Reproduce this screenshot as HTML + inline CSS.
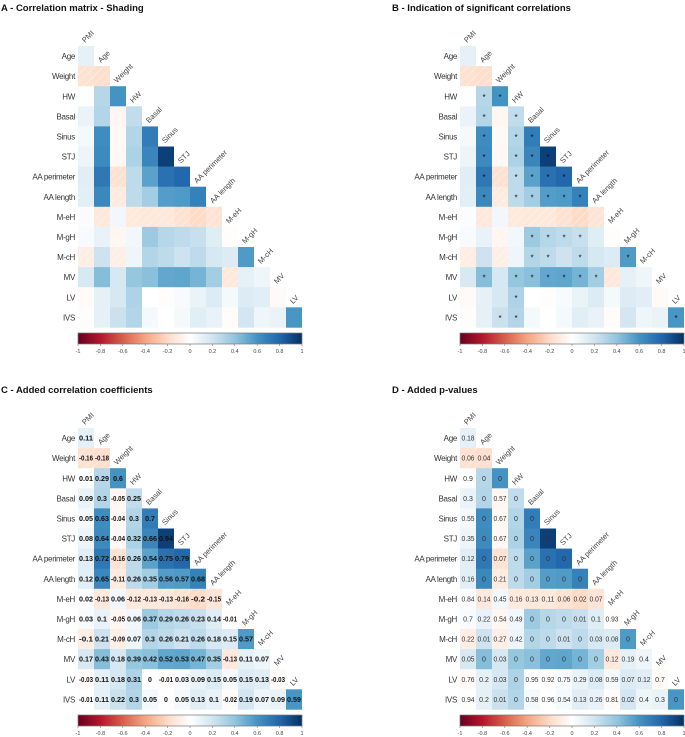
<!DOCTYPE html>
<html><head><meta charset="utf-8">
<style>
html,body{margin:0;padding:0;background:#fff;}
svg{display:block;font-family:"Liberation Sans",sans-serif;}
</style></head>
<body>
<svg id="chart" width="685" height="737" viewBox="0 0 685 737" xmlns="http://www.w3.org/2000/svg">
<defs>
<pattern id="hatch" patternUnits="userSpaceOnUse" width="6" height="6" patternTransform="rotate(45)">
<line x1="0" y1="0" x2="0" y2="6" stroke="#ffffff" stroke-width="0.8" stroke-opacity="0.7"/>
</pattern>
<linearGradient id="rdbu" x1="0" x2="1" y1="0" y2="0">
<stop offset="0" stop-color="#67001F"/><stop offset="0.1" stop-color="#B2182B"/><stop offset="0.2" stop-color="#D6604D"/><stop offset="0.3" stop-color="#F4A582"/><stop offset="0.4" stop-color="#FDDBC7"/><stop offset="0.5" stop-color="#FFFFFF"/><stop offset="0.6" stop-color="#D1E5F0"/><stop offset="0.7" stop-color="#92C5DE"/><stop offset="0.8" stop-color="#4393C3"/><stop offset="0.9" stop-color="#2166AC"/><stop offset="1" stop-color="#053061"/>
</linearGradient>
</defs>
</svg>
<script>
const rowLabels = ["Age","Weight","HW","Basal","Sinus","STJ","AA perimeter","AA length","M-eH","M-gH","M-cH","MV","LV","IVS"];
const colLabels = ["PMI","Age","Weight","HW","Basal","Sinus","STJ","AA perimeter","AA length","M-eH","M-gH","M-cH","MV","LV"];
const corrValues = [
[0.11],
[-0.16,-0.18],
[0.01,0.29,0.6],
[0.09,0.3,-0.05,0.25],
[0.05,0.63,-0.04,0.3,0.7],
[0.08,0.64,-0.04,0.32,0.66,0.94],
[0.13,0.72,-0.16,0.26,0.54,0.75,0.79],
[0.12,0.65,-0.11,0.26,0.35,0.56,0.57,0.68],
[0.02,-0.13,0.06,-0.12,-0.13,-0.13,-0.16,-0.2,-0.15],
[0.03,0.1,-0.05,0.06,0.37,0.29,0.26,0.23,0.14,-0.01],
[-0.1,0.21,-0.09,0.07,0.3,0.26,0.21,0.26,0.18,0.15,0.57],
[0.17,0.43,0.18,0.39,0.42,0.52,0.53,0.47,0.35,-0.13,0.11,0.07],
[-0.03,0.11,0.18,0.31,0,-0.01,0.03,0.09,0.15,0.05,0.15,0.13,-0.03],
[-0.01,0.11,0.22,0.3,0.05,0,0.05,0.13,0.1,-0.02,0.19,0.07,0.09,0.59]
];
const pValues = [
[0.18],
[0.06,0.04],
[0.9,0,0],
[0.3,0,0.57,0],
[0.55,0,0.67,0,0],
[0.35,0,0.67,0,0,0],
[0.12,0,0.07,0,0,0,0],
[0.16,0,0.21,0,0,0,0,0],
[0.84,0.14,0.45,0.16,0.13,0.11,0.06,0.02,0.07],
[0.7,0.22,0.54,0.49,0,0,0,0.008,0.1,0.93],
[0.22,0.012,0.27,0.42,0,0,0.011,0,0.03,0.08,0],
[0.05,0,0.03,0,0,0,0,0,0,0.12,0.19,0.4],
[0.76,0.2,0.03,0,0.95,0.92,0.75,0.29,0.08,0.59,0.07,0.12,0.7],
[0.94,0.2,0.008,0,0.58,0.96,0.54,0.13,0.26,0.81,0.02,0.4,0.3,0]
];
const tickLabels = ["-1","-0.8","-0.6","-0.4","-0.2","0","0.2","0.4","0.6","0.8","1"];
const sigThreshold = 0.01;

const NS = "http://www.w3.org/2000/svg";
const svg = document.getElementById("chart");
const palette = ["#67001F","#B2182B","#D6604D","#F4A582","#FDDBC7","#FFFFFF","#D1E5F0","#92C5DE","#4393C3","#2166AC","#053061"];
function hex(c){return [parseInt(c.slice(1,3),16),parseInt(c.slice(3,5),16),parseInt(c.slice(5,7),16)];}
function colorOf(v){
  const t = Math.max(0, Math.min(1, (v + 1) / 2)) * 10;
  const i = Math.min(9, Math.floor(t)), f = t - i;
  const a = hex(palette[i]), b = hex(palette[i+1]);
  return "rgb(" + a.map((x,k)=>Math.round(x + (b[k]-x)*f)).join(",") + ")";
}
function mk(tag, attrs, parent){
  const e = document.createElementNS(NS, tag);
  for (const k in attrs) e.setAttribute(k, attrs[k]);
  (parent || svg).appendChild(e);
  return e;
}
const CW = 16, CH = 20.1;
const panels = [
  {id:"a", title:"A - Correlation matrix - Shading", tx:1, ty:11, x0:78, y0:46, mode:"shade"},
  {id:"b", title:"B - Indication of significant correlations", tx:392, ty:11, x0:460, y0:46, mode:"star"},
  {id:"c", title:"C - Added correlation coefficients", tx:1, ty:393, x0:78, y0:428, mode:"coef"},
  {id:"d", title:"D - Added p-values", tx:392, ty:393, x0:460, y0:428, mode:"pval"}
];
panels.forEach(p => {
  const g = mk("g", {});
  
  
  const t = mk("text", {x:p.tx, y:p.ty, "font-size":"9.5", "font-weight":"bold", fill:"#111"}, g);
  t.textContent = p.title;
  
  
  const xS = j => p.x0 + j * CW;
  const yS = i => p.y0 + i * CH;
  corrValues.forEach((row, i) => {
    row.forEach((v, j) => {
      const r = mk("rect", {x:xS(j), y:yS(i), width:CW, height:CH+0.3, fill:colorOf(v)}, g);
      
      
      if (v < 0) {
        const h = mk("rect", {x:xS(j), y:yS(i), width:CW, height:CH+0.3, fill:"url(#hatch)"}, g);
        
        
      }
      const cx = xS(j) + CW/2, cy = yS(i) + CH/2;
      if (p.mode === "star" && pValues[i][j] < sigThreshold) {
        const s = mk("text", {x:cx, y:cy+3.5, "text-anchor":"middle", "font-size":"8", fill:"#111"}, g);
        s.textContent = "*";
        
        
      } else if (p.mode === "coef") {
        const s = mk("text", {x:cx, y:cy+2.5, "text-anchor":"middle", "font-size":"7", "font-weight":"bold", fill:"#111"}, g);
        if (String(v).length > 3) { s.setAttribute("textLength","14"); s.setAttribute("lengthAdjust","spacingAndGlyphs"); }
        s.textContent = String(v);
        
        
      } else if (p.mode === "pval") {
        const pv = Math.round(pValues[i][j]*100)/100;
        const s = mk("text", {x:cx, y:cy+2.5, "text-anchor":"middle", "font-size":"7", fill:"#333"}, g);
        if (String(pv).length > 3) { s.setAttribute("textLength","13"); s.setAttribute("lengthAdjust","spacingAndGlyphs"); }
        s.textContent = String(pv);
        
        
      }
    });
    const rl = mk("text", {x:p.x0-3, y:yS(i)+CH/2+3, "text-anchor":"end", "font-size":"8", fill:"#333", "letter-spacing":"-0.3"}, g);
    rl.textContent = rowLabels[i];
    
    
  });
  colLabels.forEach((c, j) => {
    const lx = xS(j) + CW/2 - 1, ly = yS(j) - 3;
    const cl = mk("text", {x:lx, y:ly, "font-size":"7.5", fill:"#444", transform:"rotate(-45 " + lx + " " + ly + ")"}, g);
    cl.textContent = c;
    
    
  });
  const by = p.y0 + 287, bw = 14 * CW;
  const bar = mk("rect", {x:p.x0, y:by, width:bw, height:11, fill:"url(#rdbu)", stroke:"#777", "stroke-width":"0.7"}, g);
  
  
  tickLabels.forEach((tl, k) => {
    const tx = p.x0 + bw * k / (tickLabels.length - 1);
    const tk = mk("line", {x1:tx, x2:tx, y1:by+11, y2:by+13, stroke:"#777", "stroke-width":"0.6"}, g);
    
    
    const tt = mk("text", {x:tx, y:by+20, "text-anchor":"middle", "font-size":"5.5", fill:"#444"}, g);
    tt.textContent = tl;
    
    
  });
});
</script>
</body></html>
